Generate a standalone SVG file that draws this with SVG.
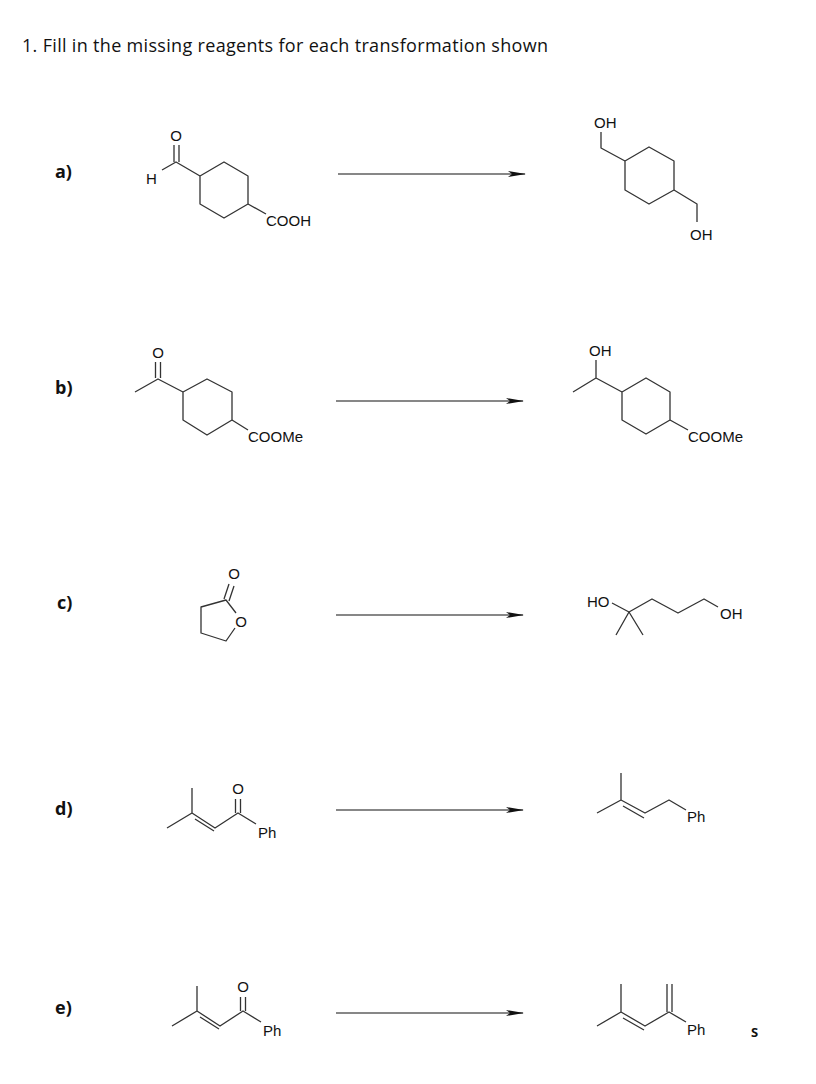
<svg xmlns="http://www.w3.org/2000/svg" width="816" height="1084" viewBox="0 0 816 1084">
<defs>
<style>
.b{stroke:#333;stroke-width:1.3;fill:none;stroke-linejoin:round}
.t{font-family:"Liberation Sans",Arial,sans-serif;font-size:15px;fill:#111}
.lab{font-family:"Open Sans","Liberation Sans",sans-serif;font-size:18px;font-weight:bold;fill:#111}
.arr{stroke:#111;stroke-width:1.2;fill:none}
</style>
<marker id="ah" markerWidth="18" markerHeight="8" refX="17" refY="4" orient="auto" markerUnits="userSpaceOnUse"><path d="M0,1 L18,4 L0,7 L4,4 z" fill="#111"/></marker>
</defs>
<rect width="816" height="1084" fill="#fff"/>
<text x="22" y="52" font-family="'Open Sans','Liberation Sans',sans-serif" font-size="18" fill="#111" textLength="526">1. Fill in the missing reagents for each transformation shown</text>
<text class="lab" x="55" y="178">a)</text>
<text class="lab" x="55" y="394">b)</text>
<text class="lab" x="57" y="609">c)</text>
<text class="lab" x="55" y="815">d)</text>
<text class="lab" x="55" y="1014">e)</text>

<g id="connectors">
<line class="arr" x1="338" y1="174" x2="525" y2="174" marker-end="url(#ah)"/>
<line class="arr" x1="336" y1="401" x2="523" y2="401" marker-end="url(#ah)"/>
<line class="arr" x1="336" y1="615" x2="523" y2="615" marker-end="url(#ah)"/>
<line class="arr" x1="336" y1="810" x2="523" y2="810" marker-end="url(#ah)"/>
<line class="arr" x1="336" y1="1013" x2="523" y2="1013" marker-end="url(#ah)"/>
</g>

<g id="a-start">
<path class="b" d="M224,162 L248,176 L248,204 L224,218 L200,204 L200,176 Z"/>
<path class="b" d="M200,176 L176,162 L162,170 M248,204 L266,214"/>
<path class="b" d="M174,162 L174,145 M179,162 L179,145"/>
<text class="t" x="176" y="141" text-anchor="middle">O</text>
<text class="t" x="146" y="184">H</text>
<text class="t" x="266" y="226">COOH</text>
</g>
<g id="a-product">
<path class="b" d="M649,147 L674,161 L674,190 L649,204 L625,190 L625,161 Z"/>
<path class="b" d="M601,132 L601,148 L625,161 M674,190 L697,204 L697,222"/>
<text class="t" x="594" y="128">OH</text>
<text class="t" x="690" y="240">OH</text>
</g>

<g id="b-start">
<path class="b" d="M207,379 L232,392 L232,420 L207,435 L183,420 L183,392 Z"/>
<path class="b" d="M183,392 L158,379 L135,392 M232,420 L248,430"/>
<path class="b" d="M155.5,378 L155.5,362 M160.5,378 L160.5,362"/>
<text class="t" x="158" y="358" text-anchor="middle">O</text>
<text class="t" x="248" y="442">COOMe</text>
</g>
<g id="b-product">
<path class="b" d="M646,378 L670,392 L670,420 L646,434 L622,420 L622,392 Z"/>
<path class="b" d="M622,392 L596,378 L573,392 M596,378 L596,360 M670,420 L688,430"/>
<text class="t" x="589" y="356">OH</text>
<text class="t" x="688" y="442">COOMe</text>
</g>

<g id="c-start">
<path class="b" d="M236,613 L226,600 L201,607 L201,633 L226,641 L235,628"/>
<path class="b" d="M224,599 L229,584 M229,601 L234,586"/>
<text class="t" x="234" y="579" text-anchor="middle">O</text>
<text class="t" x="241" y="627" text-anchor="middle">O</text>
</g>
<g id="c-product">
<path class="b" d="M612,603 L629,612 L652,599 L678,613 L704,599 L718,607 M629,612 L616,635 M629,612 L643,635"/>
<text class="t" x="587" y="607">HO</text>
<text class="t" x="720" y="619">OH</text>
</g>

<g id="d-start">
<path class="b" d="M167,828 L192,813 L192,788 M192,813 L215,828 L238,813 L256,824 M195,819 L214,831"/>
<path class="b" d="M235.5,813 L235.5,799 M240.5,813 L240.5,799"/>
<text class="t" x="238" y="794" text-anchor="middle">O</text>
<text class="t" x="258" y="838">Ph</text>
</g>
<g id="d-product">
<path class="b" d="M597,813 L621,800 L621,773 M621,800 L645,813 L669,800 L686,810 M623,806 L644,818"/>
<text class="t" x="687" y="822">Ph</text>
</g>

<g id="e-start">
<path class="b" d="M172,1026 L197,1011 L197,986 M197,1011 L220,1026 L243,1011 L261,1022 M200,1017 L219,1029"/>
<path class="b" d="M240.5,1011 L240.5,997 M245.5,1011 L245.5,997"/>
<text class="t" x="243" y="992" text-anchor="middle">O</text>
<text class="t" x="263" y="1036">Ph</text>
</g>
<g id="e-product">
<path class="b" d="M597,1026 L621,1012 L621,984 M621,1012 L645,1026 L669,1012 L686,1022 M623,1018 L644,1030"/>
<path class="b" d="M667,1012 L667,984 M672,1012 L672,984"/>
<text class="t" x="687" y="1035">Ph</text>
<text x="751" y="1037" font-family="'Open Sans','Liberation Sans',sans-serif" font-size="13" font-weight="bold" fill="#111">S</text>
</g>
</svg>
